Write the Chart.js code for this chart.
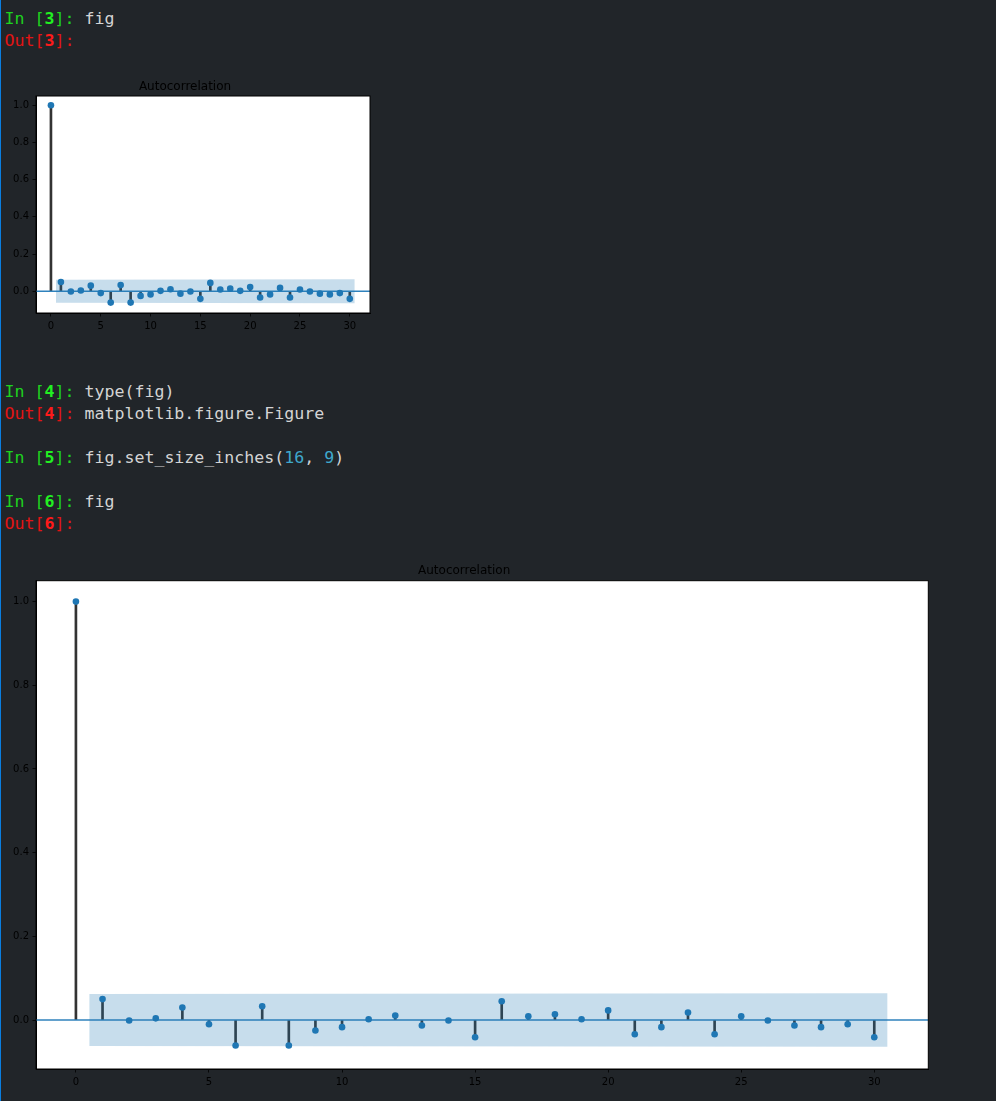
<!DOCTYPE html>
<html>
<head>
<meta charset="utf-8">
<script src="https://cdn.jsdelivr.net/npm/chart.js@4/dist/chart.umd.min.js"></script>
<style>
    html, body {
        margin: 0;
        padding: 0;
        width: 996px;
        height: 1101px;
        overflow: hidden;
        background: #212529;
    }
    .gutter {
        position: absolute;
        left: 0;
        top: 0;
        width: 1px;
        height: 1101px;
        background: #0a7ee0;
    }
    pre {
        position: absolute;
        left: 4.5px;
        margin: 0;
        font-family: "DejaVu Sans Mono", monospace;
        font-size: 16.6px;
        line-height: 22px;
        color: #d4d4d4;
    }
    .in { color: #1ed31e; }
    .in b { color: #22f022; }
    .out { color: #e21414; }
    .out b { color: #ff1a1a; }
    .num { color: #3fa8cc; }
    canvas { position: absolute; left: 0; }
</style>
</head>
<body>
<div class="gutter"></div>
<pre style="top:7.6px"><span class="in">In [<b>3</b>]: </span>fig
<span class="out">Out[<b>3</b>]:</span></pre>
<pre style="top:381.3px"><span class="in">In [<b>4</b>]: </span>type(fig)
<span class="out">Out[<b>4</b>]: </span>matplotlib.figure.Figure

<span class="in">In [<b>5</b>]: </span>fig.set_size_inches(<span class="num">16</span>, <span class="num">9</span>)

<span class="in">In [<b>6</b>]: </span>fig
<span class="out">Out[<b>6</b>]:</span></pre>

<canvas id="smallChart" width="390" height="268" style="top:70px"></canvas>
<canvas id="bigChart" width="950" height="546" style="top:555px"></canvas>

<script>
// autocorrelation values, lag 0..30
let lags = [0, 1, 2, 3, 4, 5, 6, 7, 8, 9, 10, 11, 12, 13, 14, 15, 16, 17, 18, 19, 20, 21, 22, 23, 24, 25, 26, 27, 28, 29, 30];
let acfValues = [1.0, 0.050, -0.001, 0.004, 0.030, -0.010, -0.061, 0.033, -0.061, -0.025, -0.017,
    0.002, 0.011, -0.013, -0.001, -0.041, 0.045, 0.009, 0.014, 0.002, 0.023,
    -0.034, -0.017, 0.018, -0.034, 0.009, -0.001, -0.013, -0.017, -0.010, -0.041];

// confidence band (statsmodels shifts the ends by half a lag)
let bandLags = [0.5, 30.5];
let bandUpper = [0.062, 0.064];
let bandLower = [-0.062, -0.064];

let xTicks = [0, 5, 10, 15, 20, 25, 30];
let yTicks = [0.0, 0.2, 0.4, 0.6, 0.8, 1.0];

Chart.defaults.font.family = "DejaVu Sans";
Chart.defaults.font.size = 10;
Chart.defaults.color = "#000";

// white axes face + full box of spines like matplotlib
const axesBox = {
    id: "axesBox",
    beforeDraw(chart) {
        let a = chart.chartArea;
        let ctx = chart.ctx;
        ctx.save();
        ctx.fillStyle = "#fff";
        ctx.fillRect(a.left, a.top, a.right - a.left, a.bottom - a.top);
        ctx.restore();
    },
    afterDraw(chart) {
        let a = chart.chartArea;
        let ctx = chart.ctx;
        ctx.save();
        ctx.strokeStyle = "#000";
        ctx.lineWidth = 1;
        ctx.strokeRect(a.left, a.top, a.right - a.left, a.bottom - a.top);
        ctx.restore();
    }
};

function makeChart(id, layout) {
    let ctx = document.getElementById(id).getContext("2d");
    let xMin = -1.5, xMax = 32.03;

    return new Chart(ctx, {
        data: {
            datasets: [
                {
                    type: "line",
                    data: bandLags.map((l, i) => ({ x: l, y: bandUpper[i] })),
                    borderWidth: 0,
                    pointRadius: 0,
                    fill: false,
                    order: 0
                },
                {
                    type: "line",
                    data: bandLags.map((l, i) => ({ x: l, y: bandLower[i] })),
                    borderWidth: 0,
                    pointRadius: 0,
                    fill: "-1",
                    backgroundColor: "rgba(31, 119, 180, 0.25)",
                    order: 0
                },
                {
                    type: "scatter",
                    data: lags.map((l, i) => ({ x: l, y: acfValues[i] })),
                    backgroundColor: "#1f77b4",
                    borderWidth: 0,
                    pointRadius: 3.3,
                    order: 1
                },
                {
                    type: "line",
                    data: [{ x: xMin, y: 0 }, { x: xMax, y: 0 }],
                    borderColor: "#2f82bd",
                    borderWidth: 1.6,
                    pointRadius: 0,
                    order: 2
                },
                {
                    type: "bar",
                    data: lags.map((l, i) => ({ x: l, y: acfValues[i] })),
                    backgroundColor: "#333",
                    barThickness: 2,
                    grouped: false,
                    order: 3
                }
            ]
        },
        options: {
            responsive: false,
            animation: false,
            events: [],
            layout: {
                padding: { left: 0, top: 0, right: layout.right, bottom: 0 }
            },
            plugins: {
                legend: { display: false },
                tooltip: { enabled: false },
                title: {
                    display: true,
                    text: "Autocorrelation",
                    color: "#000",
                    font: { size: 12, weight: "normal" },
                    padding: { top: layout.titleTop, bottom: layout.titleBottom }
                }
            },
            scales: {
                x: {
                    type: "linear",
                    min: xMin,
                    max: xMax,
                    offset: false,
                    grid: { display: true, drawOnChartArea: false, offset: false, tickLength: 3.5, color: "#000", lineWidth: 0.8 },
                    border: { display: true, color: "#000", width: 1 },
                    ticks: { padding: 3.5, color: "#000", maxRotation: 0, callback: v => String(v) },
                    afterBuildTicks: s => { s.ticks = xTicks.map(v => ({ value: v })); },
                    afterFit: s => { s.height = layout.xHeight; }
                },
                y: {
                    type: "linear",
                    min: -0.117,
                    max: 1.05,
                    grid: { display: true, drawOnChartArea: false, tickLength: 3.5, color: "#000", lineWidth: 0.8 },
                    border: { display: true, color: "#000", width: 1 },
                    ticks: { padding: 3.5, color: "#000", callback: v => v.toFixed(1) },
                    afterBuildTicks: s => { s.ticks = yTicks.map(v => ({ value: v })); },
                    afterFit: s => { s.width = 36; }
                }
            }
        },
        plugins: [axesBox]
    });
}

makeChart("smallChart", { right: 20, titleTop: 9.8, titleBottom: 1.8, xHeight: 25 });
makeChart("bigChart", { right: 21.7, titleTop: 8.4, titleBottom: 2.9, xHeight: 32 });
</script>
</body>
</html>
